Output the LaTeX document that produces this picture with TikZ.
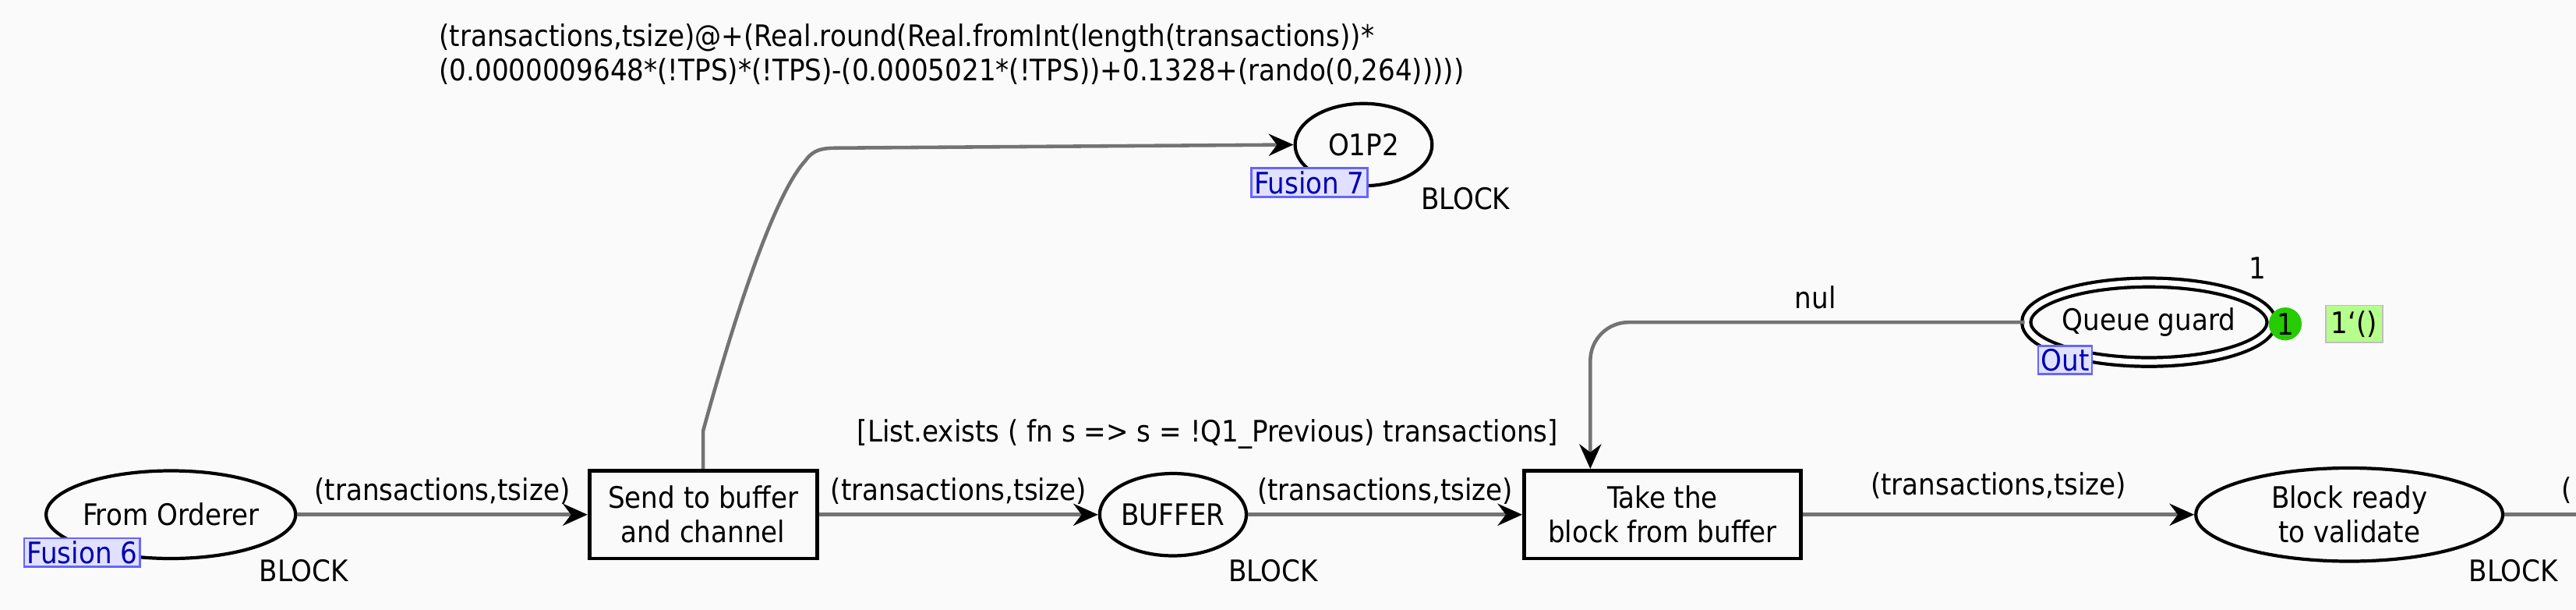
\documentclass[tikz,border=0pt]{standalone}
\usepackage{fontspec}
\setmainfont{DejaVu Sans Condensed}
\usetikzlibrary{arrows.meta,shapes.geometric}
\begin{document}
\begin{tikzpicture}[x=0.02108cm,y=-0.02108cm,font=\fontsize{10.8}{12.5}\selectfont,
 place/.style={draw,line width=1.2pt,ellipse,inner sep=0pt,align=center},
 trans/.style={draw,line width=1.4pt,rectangle,inner sep=0pt,align=center},
 arc/.style={draw=black!55,line width=1.3pt,-{Stealth[black,length=9pt,width=8pt,inset=3pt]}},
 tag/.style={draw=blue!60,fill=blue!12,text=blue!70!black,line width=0.8pt,inner sep=1pt},
 lbl/.style={inner sep=0pt}]
\fill[black!2] (0,0) rectangle (1568,371);
\useasboundingbox (0,0) rectangle (1568,371);
% places
\node[place,minimum width=84pt,minimum height=32pt] (fo) at (104,313) {From Orderer};
\node[tag] (f6) at (50,336) {Fusion 6};
\node[lbl] (b1) at (185,347) {BLOCK};
\node[trans,minimum width=83pt,minimum height=32pt] (send) at (428,313) {Send to buffer\\and channel};
\node[place,minimum width=50pt,minimum height=30pt] (o1) at (830,88) {O1P2};
\node[tag] (f7) at (797,111) {Fusion 7};
\node[lbl] (b2) at (892,121) {BLOCK};
\node[place,minimum width=50pt,minimum height=30pt] (buf) at (714,313) {BUFFER};
\node[lbl] (b3) at (775,347) {BLOCK};
\node[trans,minimum width=101pt,minimum height=32pt] (take) at (1012,313) {Take the\\block from buffer};
\node[place,minimum width=79pt,minimum height=29pt,double,double distance=2pt] (qg) at (1308,196) {Queue guard};
\node[tag] (out) at (1257,219) {Out};
\node[lbl] (one) at (1374,163) {1};
\node[circle,fill=green!75!black!80!lime,inner sep=0pt,minimum size=12pt] (tok) at (1391,197) {1};
\node[fill=lime!50!green!45,draw=black!25,inner sep=2pt] (mark) at (1433,197) {1`()};
\node[place,minimum width=112pt,minimum height=34pt] (br) at (1430,313) {Block ready\\to validate};
\node[lbl] (b4) at (1530,347) {BLOCK};
% arcs
\draw[arc] (fo) -- (send) node[midway,above=3pt,lbl] {(transactions,tsize)};
\draw[arc] (send) -- (buf) node[midway,above=3pt,lbl] {(transactions,tsize)};
\draw[arc] (buf) -- (take) node[midway,above=3pt,lbl] {(transactions,tsize)};
\draw[arc] (take) -- (br) node[midway,above=5pt,lbl] {(transactions,tsize)};
\draw[arc] (send.north) -- (428,262) .. controls (445,200) and (470,120) .. (490,98) .. controls (495,91) and (500,90) .. (510,90) -- (o1.west);
\draw[arc,rounded corners=14] (qg.west) -- (968,196) -- (take.north -| 968,0);
\coordinate (edge) at (1568,313);
\draw[draw=black!55,line width=1.3pt] (br.east) -- (edge);
\node[lbl,anchor=west] (cut) at (1559,298) {(};
% texts
\node[lbl] (nul) at (1105,181) {nul};
\node[lbl] (guard) at (735,264) {[List.exists ( fn s => s = !Q1\_Previous) transactions]};
\node[lbl,anchor=north west,align=left] (expr) at (267,14) {(transactions,tsize)@+(Real.round(Real.fromInt(length(transactions))*\\(0.0000009648*(!TPS)*(!TPS)-(0.0005021*(!TPS))+0.1328+(rando(0,264)))))};
\end{tikzpicture}
\end{document}
